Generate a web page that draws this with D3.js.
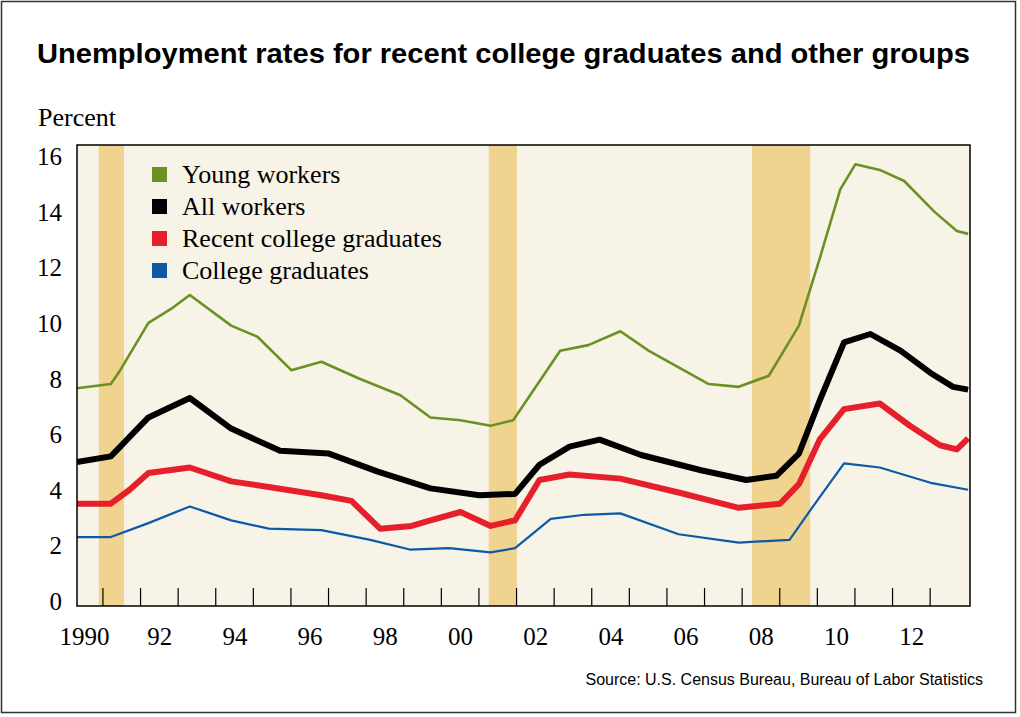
<!DOCTYPE html><html><head><meta charset="utf-8"><script src="https://cdn.jsdelivr.net/npm/d3@7"></script>
<style>body{margin:0;background:#fff}</style></head><body><script>
const recessions=[[1990.58,1991.25],[2000.95,2001.7],[2007.95,2009.5]];
const yTicks=[0,2,4,6,8,10,12,14,16];
const xLabels=["1990","92","94","96","98","00","02","04","06","08","10","12"];
const young=[[1990,7.65],[1990.9,7.8],[1991.15,8.3],[1991.9,10.0],[1992.5,10.5],[1993.0,11.0],[1994.1,9.9],[1994.8,9.5],[1995.7,8.3],[1996.5,8.6],[1997.5,8.0],[1998.6,7.4],[1999.4,6.6],[2000.2,6.5],[2001.0,6.3],[2001.6,6.5],[2002.85,9.0],[2003.6,9.2],[2004.45,9.7],[2005.2,9.0],[2006.0,8.4],[2006.8,7.8],[2007.6,7.7],[2008.4,8.1],[2009.2,9.9],[2009.75,12.3],[2010.3,14.8],[2010.7,15.7],[2011.35,15.5],[2012.0,15.1],[2012.8,14.0],[2013.4,13.3],[2013.7,13.2]];
const allw=[[1990,5.0],[1990.9,5.2],[1991.9,6.6],[1993.0,7.3],[1994.1,6.2],[1995.4,5.4],[1996.7,5.3],[1998.0,4.65],[1999.4,4.05],[2000.7,3.8],[2001.65,3.85],[2002.3,4.9],[2003.1,5.55],[2003.9,5.8],[2005.0,5.25],[2006.6,4.7],[2007.8,4.35],[2008.6,4.5],[2009.2,5.3],[2009.75,7.2],[2010.4,9.3],[2011.1,9.6],[2011.9,9.0],[2012.7,8.2],[2013.3,7.7],[2013.7,7.6]];
const recent=[[1990,3.5],[1990.9,3.5],[1991.4,4.0],[1991.9,4.6],[1993.0,4.8],[1994.1,4.3],[1995.1,4.1],[1996.5,3.8],[1997.3,3.6],[1998.06,2.6],[1998.9,2.7],[1999.4,2.9],[2000.2,3.2],[2001.0,2.7],[2001.65,2.9],[2002.3,4.35],[2003.1,4.55],[2004.45,4.4],[2006.0,3.9],[2007.6,3.35],[2008.7,3.5],[2009.2,4.2],[2009.75,5.8],[2010.4,6.9],[2011.35,7.1],[2012.15,6.3],[2012.95,5.6],[2013.4,5.45],[2013.7,5.85]];
const college=[[1990,2.3],[1990.9,2.3],[1991.9,2.8],[1993.0,3.4],[1994.1,2.9],[1995.1,2.6],[1996.5,2.55],[1997.8,2.2],[1998.85,1.85],[1999.9,1.9],[2001.0,1.75],[2001.65,1.9],[2002.6,2.95],[2003.5,3.1],[2004.45,3.15],[2006.0,2.4],[2007.6,2.1],[2008.95,2.2],[2009.6,3.45],[2010.4,4.95],[2011.35,4.8],[2012.7,4.25],[2013.7,4.0]];
const series=[{name:"Young workers",data:young,color:"#6b9125",w:2.6},{name:"All workers",data:allw,color:"#000",w:6},{name:"Recent college graduates",data:recent,color:"#e5202a",w:6},{name:"College graduates",data:college,color:"#0a5aa8",w:2.2}];
const W=1020,H=717;
const svg=d3.select("body").append("svg").attr("width",W).attr("height",H);
svg.append("rect").attr("x",1.5).attr("y",1.5).attr("width",1014).attr("height",711).attr("fill","#fff").attr("stroke","#333").attr("stroke-width",1.5);
const x=d3.scaleLinear().domain([1990,2013.75]).range([77,970]);
const y=d3.scaleLinear().domain([0,16]).range([601,156]);
const pTop=145,pBot=606;
svg.append("rect").attr("x",77).attr("y",pTop).attr("width",893).attr("height",pBot-pTop).attr("fill","#f8f3e7");
svg.selectAll(".rec").data(recessions).join("rect").attr("x",d=>x(d[0])).attr("width",d=>x(d[1])-x(d[0])).attr("y",pTop).attr("height",pBot-pTop).attr("fill","#f0d38f");
const line=d3.line().x(d=>x(d[0])).y(d=>y(d[1]));
series.forEach(s=>svg.append("path").attr("d",line(s.data)).attr("fill","none").attr("stroke",s.color).attr("stroke-width",s.w).attr("stroke-linejoin","round"));
svg.append("rect").attr("x",77).attr("y",pTop).attr("width",893).attr("height",pBot-pTop).attr("fill","none").attr("stroke","#000").attr("stroke-width",1.5);
const tickYears=d3.range(1990,2013).map(v=>v+0.69);
svg.selectAll(".xt").data(tickYears).join("line").attr("x1",d=>x(d)).attr("x2",d=>x(d)).attr("y1",pBot).attr("y2",pBot-18).attr("stroke","#000").attr("stroke-width",1.2);
const serif="'Liberation Serif','Times New Roman',serif";
svg.selectAll(".xl").data(xLabels).join("text").attr("x",(d,i)=>x(1990.2+2*i)).attr("y",645).attr("text-anchor","middle").attr("font-family",serif).attr("font-size",25).text(d=>d);
svg.selectAll(".yl").data(yTicks).join("text").attr("x",62).attr("y",d=>y(d)+9).attr("text-anchor","end").attr("font-family",serif).attr("font-size",25).text(d=>d);
svg.append("text").attr("x",38).attr("y",126).attr("font-family",serif).attr("font-size",26).text("Percent");
svg.append("text").attr("x",37).attr("y",63).attr("font-family","'Liberation Sans',Arial,sans-serif").attr("font-weight","bold").attr("font-size",27).attr("textLength",933).attr("lengthAdjust","spacingAndGlyphs").text("Unemployment rates for recent college graduates and other groups");
const lg=svg.append("g");
series.forEach((s,i)=>{const yy=175+i*32;
lg.append("rect").attr("x",152).attr("y",yy-8).attr("width",15).attr("height",15).attr("fill",s.color);
lg.append("text").attr("x",182).attr("y",yy+8).attr("font-family",serif).attr("font-size",26).text(s.name);});
svg.append("text").attr("x",983).attr("y",685).attr("text-anchor","end").attr("font-family","'Liberation Sans',Arial,sans-serif").attr("font-size",16).text("Source: U.S. Census Bureau, Bureau of Labor Statistics");
</script></body></html>
